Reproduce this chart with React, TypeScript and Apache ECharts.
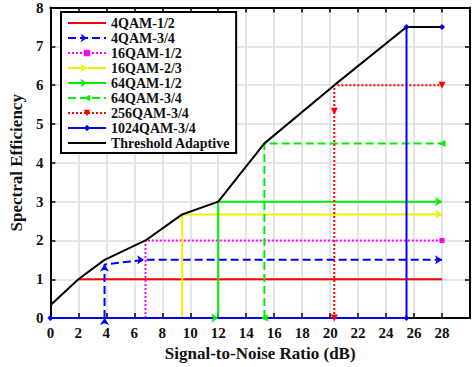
import React, { useEffect, useRef } from "react";
import * as echarts from "echarts";

const xTicks = [0, 2, 4, 6, 8, 10, 12, 14, 16, 18, 20, 22, 24, 26, 28];
const seriesNames = [
  "4QAM-1/2",
  "4QAM-3/4",
  "16QAM-1/2",
  "16QAM-2/3",
  "64QAM-1/2",
  "64QAM-3/4",
  "256QAM-3/4",
  "1024QAM-3/4",
  "Threshold Adaptive",
];
const qam4_12 = [[2, 1], [28, 1]];
const qam4_34 = [[3.87, 0], [3.87, 1.38], [6.7, 1.5], [28, 1.5]];
const qam16_12 = [[6.8, 0], [6.8, 2], [28, 2]];
const qam16_23 = [[9.42, 0], [9.42, 2.67], [28, 2.67]];
const qam64_12 = [[12, 0], [12, 3], [28, 3]];
const qam64_34 = [[15.3, 0], [15.3, 4.5], [28, 4.5]];
const qam256_34 = [[20.3, 0], [20.3, 5.33], [20.3, 6], [28, 6]];
const qam1024_34 = [[0, 0], [25.46, 0], [25.46, 7.5], [28, 7.5]];
const threshold = [
  [0, 0.33], [2, 1], [3.87, 1.5], [6.8, 2], [9.42, 2.67], [12, 3],
  [15.3, 4.5], [20.3, 6], [25.46, 7.5], [28, 7.5],
];

const FONT = "Liberation Serif";
const BLANK = "path://M0,0L10,0L10,10L10,0Z";

export default function App() {
  const ref = useRef<HTMLDivElement>(null);
  useEffect(() => {
    if (!ref.current) return;
    const chart = echarts.init(ref.current, null, { renderer: "svg" });
    const mk = (
      name: string,
      data: number[][],
      color: string,
      type: string,
      symbol: string,
      rotate: number,
      size: number,
      markAt: number[],
      dirRotate = false
    ) => ({
      name,
      type: "line",
      color,
      symbol,
      symbolSize: size,
      symbolRotate: rotate,
      showSymbol: symbol !== BLANK,
      data: data.map((p, i) => {
        const item: any = { value: p };
        if (!markAt.includes(i)) item.symbol = "none";
        if (dirRotate) {
          const a = i > 0 ? data[i - 1] : p;
          const b = i > 0 ? p : data[1];
          const dx = b[0] - a[0];
          const dy = b[1] - a[1];
          item.symbolRotate = Math.abs(dy) > Math.abs(dx) ? (dy > 0 ? 0 : 180) : dx > 0 ? -90 : 90;
        }
        return item;
      }),
      itemStyle: { color, borderWidth: 0 },
      lineStyle: { color, width: 2, type },
      z: 3,
    });
    const axLine = { onZero: false, lineStyle: { color: "#000", width: 2 } };
    const axTick = { inside: true, length: 5, lineStyle: { color: "#000", width: 1.5 } };
    const nameStyle = { fontFamily: FONT, fontWeight: "bold", fontSize: 17, color: "#111" };
    const labStyle = { fontFamily: FONT, fontWeight: "bold", fontSize: 15, color: "#111" };
    chart.setOption({
      animation: false,
      backgroundColor: "#fff",
      textStyle: { fontFamily: FONT, fontWeight: "bold" },
      grid: { left: 40, right: 4, top: 4, bottom: 44, containLabel: false },
      legend: {
        orient: "vertical",
        left: 61,
        top: 12,
        data: seriesNames,
        itemWidth: 38,
        itemHeight: 8,
        itemGap: 1,
        padding: [4, 6, 3, 6],
        borderColor: "#000",
        borderWidth: 2,
        borderRadius: 0,
        backgroundColor: "#fff",
        textStyle: { fontFamily: FONT, fontWeight: "bold", fontSize: 14, color: "#111", lineHeight: 14 },
      },
      xAxis: [
        {
          type: "value",
          min: 0,
          max: 30,
          interval: 2,
          name: "Signal-to-Noise Ratio (dB)",
          nameLocation: "middle",
          nameGap: 23,
          nameTextStyle: nameStyle,
          axisLine: axLine,
          axisTick: axTick,
          axisLabel: {
            ...labStyle,
            margin: 7,
            formatter: (v: number) => (xTicks.includes(v) ? String(v) : ""),
          },
          splitLine: { show: true, lineStyle: { color: "#dcdcdc", width: 1.5 } },
        },
        {
          type: "value",
          position: "top",
          min: 0,
          max: 30,
          interval: 2,
          axisLine: axLine,
          axisTick: axTick,
          axisLabel: { show: false },
          splitLine: { show: false },
        },
      ],
      yAxis: [
        {
          type: "value",
          min: 0,
          max: 8,
          interval: 1,
          name: "Spectral Efficiency",
          nameLocation: "middle",
          nameGap: 23,
          nameTextStyle: nameStyle,
          axisLine: axLine,
          axisTick: axTick,
          axisLabel: { ...labStyle, margin: 7 },
          splitLine: { show: true, lineStyle: { color: "#dcdcdc", width: 1.5 } },
        },
        {
          type: "value",
          position: "right",
          min: 0,
          max: 8,
          interval: 1,
          axisLine: axLine,
          axisTick: axTick,
          axisLabel: { show: false },
          splitLine: { show: false },
        },
      ],
      series: [
        mk(seriesNames[0], qam4_12, "#ff0000", "solid", BLANK, 0, 6, []),
        mk(seriesNames[1], qam4_34, "#0000ff", "dashed", "arrow", -90, 7, [0, 1, 2, 3], true),
        mk(seriesNames[2], qam16_12, "#ff00ff", "dotted", "rect", 0, 5, [2]),
        mk(seriesNames[3], qam16_23, "#f2f200", "solid", "arrow", -90, 7, [2]),
        mk(seriesNames[4], qam64_12, "#00ee00", "solid", "arrow", -90, 7, [0, 2]),
        mk(seriesNames[5], qam64_34, "#00ee00", "dashed", "triangle", 90, 7, [0, 2]),
        mk(seriesNames[6], qam256_34, "#ff0000", "dotted", "triangle", 180, 7, [0, 1, 3]),
        mk(seriesNames[7], qam1024_34, "#0000ff", "solid", "diamond", 0, 6, [0, 1, 2, 3]),
        mk(seriesNames[8], threshold, "#000000", "solid", BLANK, 0, 6, []),
      ],
    });
    return () => chart.dispose();
  }, []);
  return (
    <div
      ref={ref}
      style={{ position: "fixed", left: 0, top: 0, width: 474, height: 367 }}
    />
  );
}
